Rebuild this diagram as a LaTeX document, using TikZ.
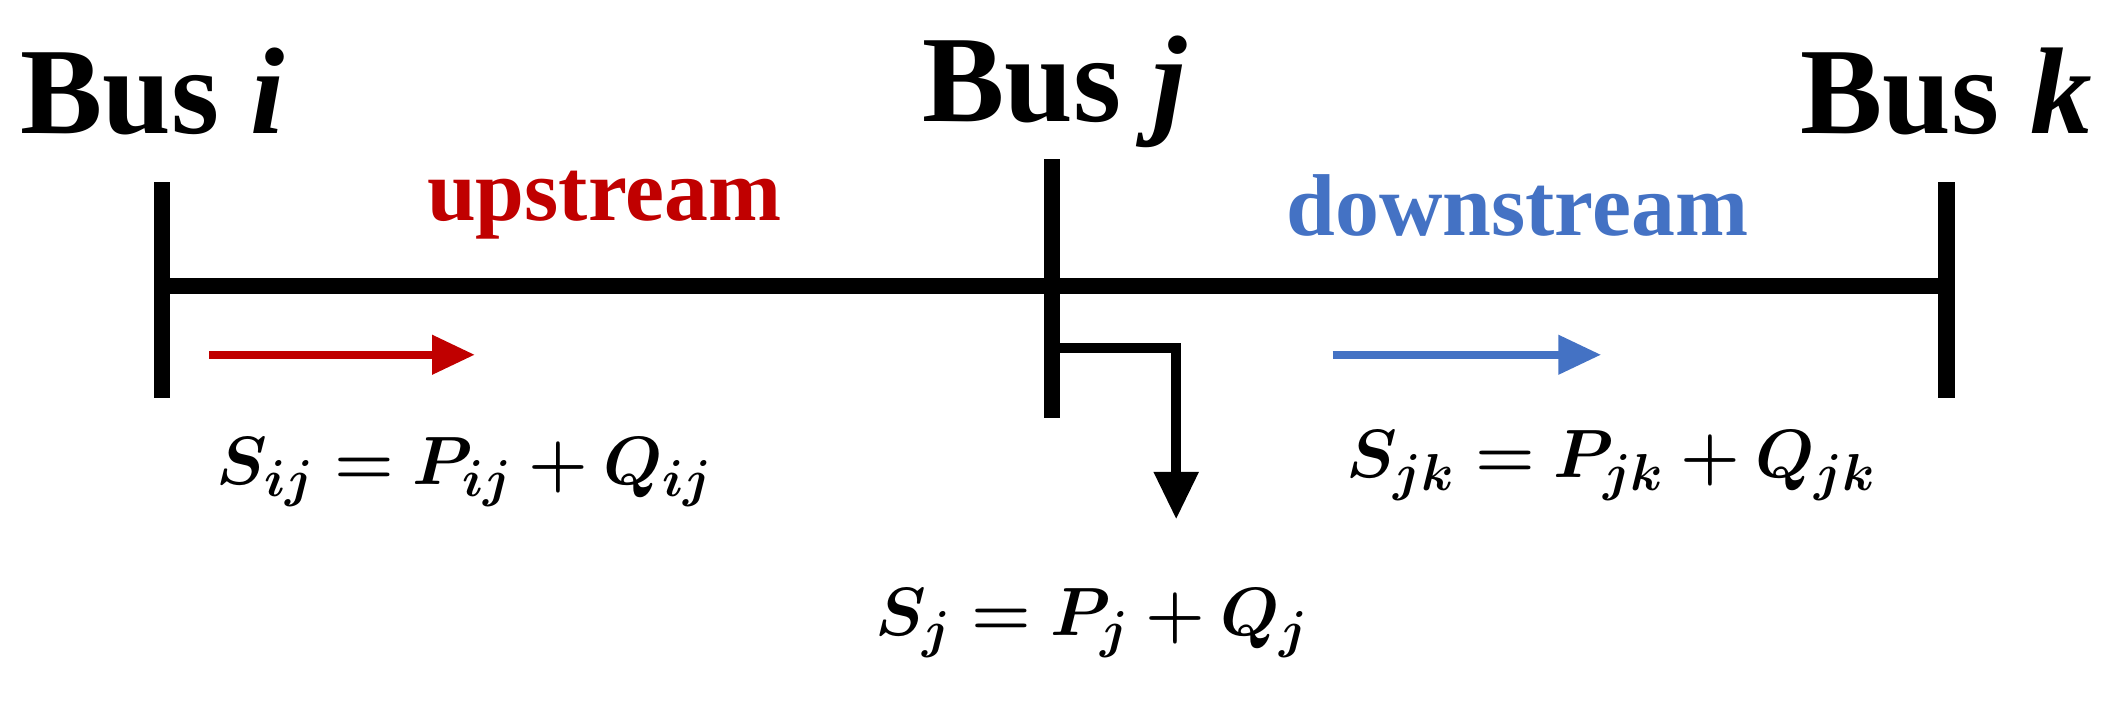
\documentclass[tikz,border=0pt]{standalone}
\usepackage{fontspec}
\setmainfont{Liberation Serif}
\usepackage{amsmath,bm}
\usetikzlibrary{arrows.meta}
\definecolor{upred}{RGB}{192,0,0}
\definecolor{downblue}{RGB}{68,114,196}
\tikzset{
  bus/.style={line width=3.5pt},
  busname/.style={font=\fontsize{26}{30}\selectfont\bfseries},
  dirlabel/.style={font=\fontsize{18.5}{22}\selectfont\bfseries},
  flow/.style={line width=1.6pt,-{Triangle[length=9pt,width=8pt]}},
  eq/.style={font=\fontsize{15}{18}\selectfont}
}
\begin{document}
\begin{tikzpicture}[x=0.01cm,y=-0.01cm]
\useasboundingbox (0,0) rectangle (1568,520);
\node[busname] (bi) at (113,68) {Bus \textit{i}};
\node[busname] (bj) at (782,68) {Bus \textit{j}};
\node[busname] (bk) at (1443,68) {Bus \textit{k}};
\coordinate (it) at (120,135); \coordinate (ib) at (120,295);
\coordinate (jt) at (780,118); \coordinate (jb) at (780,310);
\coordinate (kt) at (1443,135); \coordinate (kb) at (1443,295);
\draw[bus] (it) -- (ib);
\draw[bus] (jt) -- (jb);
\draw[bus] (kt) -- (kb);
\coordinate (il) at (120,212); \coordinate (kl) at (1443,212);
\draw[bus] (il) -- (kl);
\node[dirlabel,text=upred] (up) at (448,152) {upstream};
\node[dirlabel,text=downblue] (down) at (1125,152) {downstream};
\coordinate (ra) at (155,263); \coordinate (rb) at (352,263);
\draw[flow,upred] (ra) -- (rb);
\coordinate (ba) at (988,263); \coordinate (bb) at (1187,263);
\draw[flow,downblue] (ba) -- (bb);
\node[eq] (sij) at (345,350) {$\bm{S_{ij}=P_{ij}+Q_{ij}}$};
\node[eq] (sjk) at (1195,345) {$\bm{S_{jk}=P_{jk}+Q_{jk}}$};
\coordinate (ja) at (780,258); \coordinate (jc) at (872,258); \coordinate (jd) at (872,385);
\draw[line width=2pt,-{Triangle[length=10pt,width=9pt]}] (ja) -- (jc) -- (jd);
\node[eq] (sj) at (810,462) {$\bm{S_{j}=P_{j}+Q_{j}}$};
\end{tikzpicture}
\end{document}
